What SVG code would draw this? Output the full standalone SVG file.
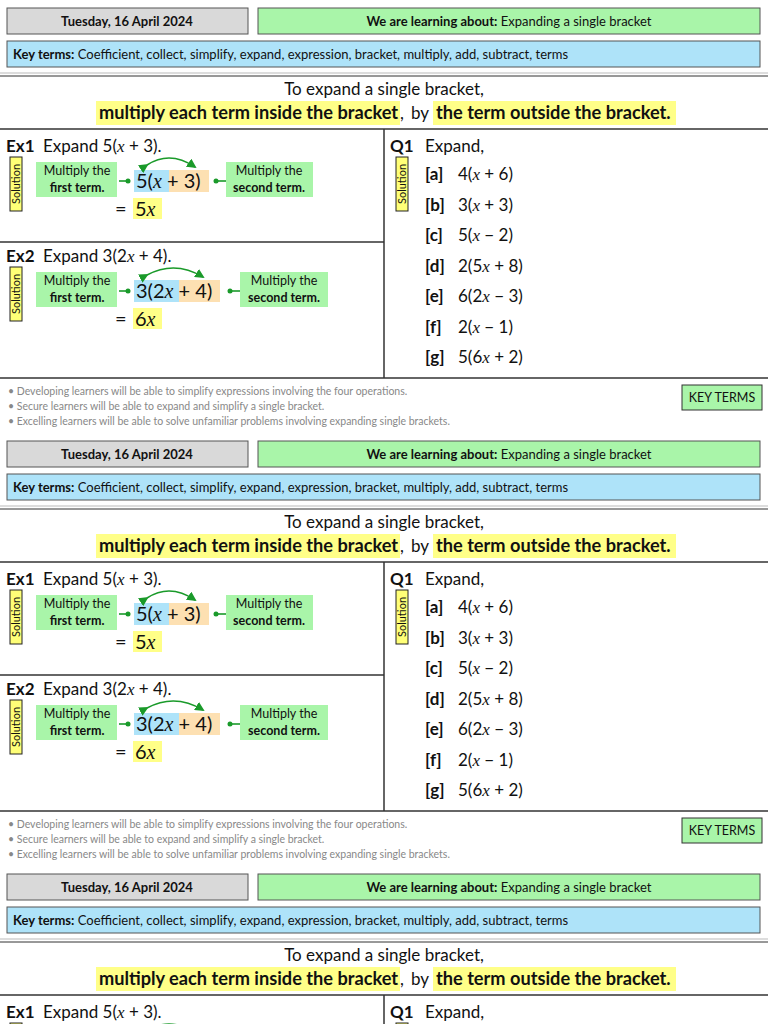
<svg xmlns="http://www.w3.org/2000/svg" xmlns:xlink="http://www.w3.org/1999/xlink" width="768" height="1024" viewBox="0 0 768 1024">
<style>
text{font-family:Lato,"Liberation Sans",sans-serif;fill:#111}
.b{font-weight:bold}
.m{font-family:"Liberation Serif",serif;font-style:italic}
.g{fill:#a9f5a9}
.bl{fill:#aee3f9}
.or{fill:#fde0b2}
.y{fill:#ffff88}
.ln{stroke:#333;stroke-width:1.5;fill:none}
.gc{stroke:#1a9a2a;stroke-width:1.6;fill:none}
.bul{font-size:10.5px;fill:#888}
.q{font-size:17px}
</style>
<defs>
<marker id="ah" viewBox="0 0 10 10" refX="8" refY="5" markerWidth="6" markerHeight="6" orient="auto"><path d="M0,0L10,5L0,10z" fill="#1a9a2a"/></marker>
<g id="page">
<rect x="7" y="8" width="241" height="26" fill="#d9d9d9" stroke="#555"/>
<text x="127" y="26" font-size="13" class="b" text-anchor="middle">Tuesday, 16 April 2024</text>
<rect x="258" y="8" width="502" height="26" class="g" stroke="#555"/>
<text x="509" y="26" font-size="13" text-anchor="middle"><tspan class="b">We are learning about:</tspan>  Expanding a single bracket</text>
<rect x="7" y="41" width="753" height="26" class="bl" stroke="#555"/>
<text x="13" y="59" font-size="13"><tspan class="b">Key terms:</tspan>  Coefficient, collect, simplify, expand, expression, bracket, multiply, add, subtract, terms</text>
<line x1="0" y1="73" x2="768" y2="73" stroke="#bbb"/>
<line x1="0" y1="76" x2="768" y2="76" stroke="#333"/>
<text x="384" y="95" font-size="17" text-anchor="middle">To expand a single bracket,</text>
<rect x="96" y="101" width="304" height="24" class="y"/>
<rect x="433" y="101" width="243" height="24" class="y"/>
<text x="99" y="119" font-size="18.2" class="b">multiply each term inside the bracket</text>
<text x="400" y="119" font-size="17">,</text>
<text x="411" y="119" font-size="17">by</text>
<text x="436" y="119" font-size="18.2" class="b">the term outside the bracket.</text>
<line x1="0" y1="129" x2="768" y2="129" class="ln"/>
<line x1="384" y1="129" x2="384" y2="378" class="ln"/>
<line x1="0" y1="242" x2="384" y2="242" class="ln"/>
<line x1="0" y1="378" x2="768" y2="378" class="ln"/>
<g id="ex1">
<text x="6" y="152" font-size="17"><tspan class="b">Ex1</tspan><tspan x="43">Expand 5(<tspan class="m">x</tspan> + 3).</tspan></text>
<rect x="10" y="157" width="12" height="54" fill="#ffff77" stroke="#222"/>
<text transform="translate(20,184) rotate(-90)" font-size="11" text-anchor="middle">Solution</text>
<rect x="36" y="162" width="81" height="35" class="g"/>
<text x="77" y="175" font-size="12.5" text-anchor="middle">Multiply the</text>
<text x="77" y="192" font-size="12.5" class="b" text-anchor="middle">first term.</text>
<rect x="134" y="170" width="35" height="22" class="bl"/>
<rect x="169" y="170" width="40" height="22" class="or"/>
<text x="136" y="188" font-size="20">5(<tspan class="m">x</tspan> + 3)</text>
<rect x="226" y="162" width="87" height="35" class="g"/>
<text x="269" y="175" font-size="12.5" text-anchor="middle">Multiply the</text>
<text x="269" y="192" font-size="12.5" class="b" text-anchor="middle">second term.</text>
<text x="115" y="216" font-size="20">=</text>
<rect x="133" y="198" width="29" height="21" class="y"/>
<text x="135" y="216" font-size="20">5<tspan class="m">x</tspan></text>
</g>
<g id="ex2">
<text x="6" y="262" font-size="17"><tspan class="b">Ex2</tspan><tspan x="43">Expand 3(2<tspan class="m">x</tspan> + 4).</tspan></text>
<rect x="10" y="267" width="12" height="54" fill="#ffff77" stroke="#222"/>
<text transform="translate(20,294) rotate(-90)" font-size="11" text-anchor="middle">Solution</text>
<rect x="36" y="272" width="81" height="35" class="g"/>
<text x="77" y="285" font-size="12.5" text-anchor="middle">Multiply the</text>
<text x="77" y="302" font-size="12.5" class="b" text-anchor="middle">first term.</text>
<rect x="134" y="280" width="45" height="22" class="bl"/>
<rect x="179" y="280" width="41" height="22" class="or"/>
<text x="136" y="298" font-size="20">3(2<tspan class="m">x</tspan> + 4)</text>
<rect x="240" y="272" width="88" height="35" class="g"/>
<text x="284" y="285" font-size="12.5" text-anchor="middle">Multiply the</text>
<text x="284" y="302" font-size="12.5" class="b" text-anchor="middle">second term.</text>
<text x="115" y="326" font-size="20">=</text>
<rect x="133" y="308" width="29" height="21" class="y"/>
<text x="135" y="326" font-size="20">6<tspan class="m">x</tspan></text>
</g>
<g id="connectors">
<path d="M119,181H128" class="gc"/><circle cx="128" cy="181" r="2.5" fill="#1a9a2a"/>
<path d="M226,181H216" class="gc"/><circle cx="216" cy="181" r="2.5" fill="#1a9a2a"/>
<path d="M147,165Q170,150 195,167" class="gc" marker-end="url(#ah)" marker-start="url(#ah)"/>
<path d="M119,291H128" class="gc"/><circle cx="128" cy="291" r="2.5" fill="#1a9a2a"/>
<path d="M240,291H230" class="gc"/><circle cx="230" cy="291" r="2.5" fill="#1a9a2a"/>
<path d="M147,275Q175,260 203,277" class="gc" marker-end="url(#ah)" marker-start="url(#ah)"/>
</g>
<g id="q1">
<text x="390" y="152" font-size="17"><tspan class="b">Q1</tspan><tspan x="425">Expand,</tspan></text>
<rect x="396" y="157" width="12" height="54" fill="#ffff77" stroke="#222"/>
<text transform="translate(406,184) rotate(-90)" font-size="11" text-anchor="middle">Solution</text>
<text x="425" y="180" class="q"><tspan class="b">[a]</tspan><tspan x="458">4(<tspan class="m">x</tspan> + 6)</tspan></text>
<text x="425" y="211" class="q"><tspan class="b">[b]</tspan><tspan x="458">3(<tspan class="m">x</tspan> + 3)</tspan></text>
<text x="425" y="241" class="q"><tspan class="b">[c]</tspan><tspan x="458">5(<tspan class="m">x</tspan> − 2)</tspan></text>
<text x="425" y="272" class="q"><tspan class="b">[d]</tspan><tspan x="458">2(5<tspan class="m">x</tspan> + 8)</tspan></text>
<text x="425" y="302" class="q"><tspan class="b">[e]</tspan><tspan x="458">6(2<tspan class="m">x</tspan> − 3)</tspan></text>
<text x="425" y="333" class="q"><tspan class="b">[f]</tspan><tspan x="458">2(<tspan class="m">x</tspan> − 1)</tspan></text>
<text x="425" y="363" class="q"><tspan class="b">[g]</tspan><tspan x="458">5(6<tspan class="m">x</tspan> + 2)</tspan></text>
</g>
<text x="8" y="395" class="bul">•  Developing learners will be able to simplify expressions involving the four operations.</text>
<text x="8" y="410" class="bul">•  Secure learners will be able to expand and simplify a single bracket.</text>
<text x="8" y="425" class="bul">•  Excelling learners will be able to solve unfamiliar problems involving expanding single brackets.</text>
<rect x="682" y="385" width="80" height="25" class="g" stroke="#333"/>
<text x="722" y="402" font-size="12.5" text-anchor="middle">KEY TERMS</text>
</g>
</defs>
<rect width="768" height="1024" fill="#fff"/>
<use id="page1" xlink:href="#page" href="#page"/>
<use id="page2" xlink:href="#page" href="#page" transform="translate(0,433)"/>
<use id="page3" xlink:href="#page" href="#page" transform="translate(0,866)"/>
</svg>
